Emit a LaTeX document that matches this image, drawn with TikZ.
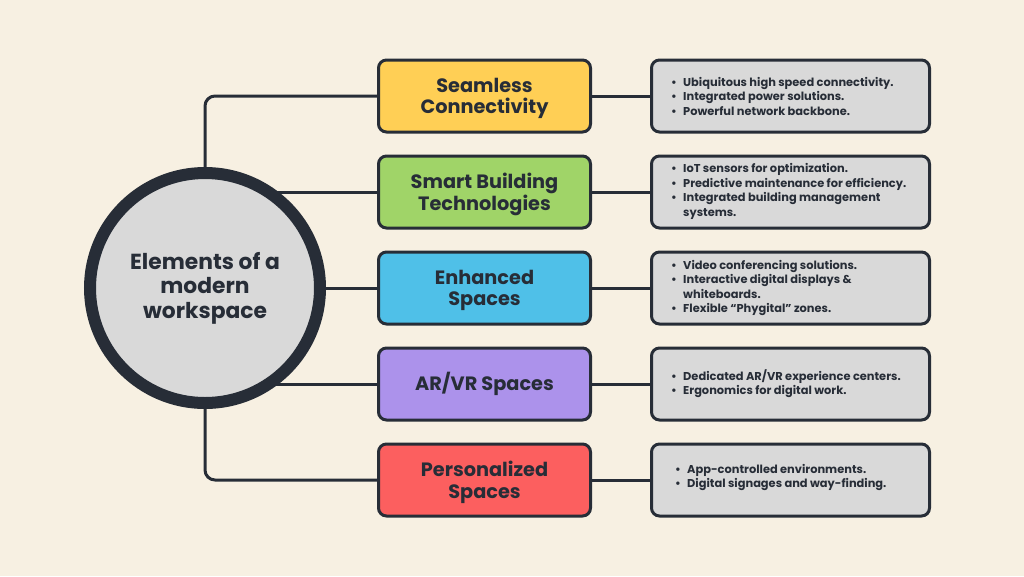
\documentclass[tikz,border=0pt]{standalone}
\usepackage{fontspec}
\setmainfont{Poppins}
\usetikzlibrary{backgrounds}
\definecolor{bgc}{HTML}{F7F0E2}
\definecolor{ink}{HTML}{272D37}
\definecolor{cyellow}{HTML}{FFCF55}
\definecolor{cgreen}{HTML}{A0D468}
\definecolor{cblue}{HTML}{4FC0E8}
\definecolor{cpurple}{HTML}{AC92EB}
\definecolor{cred}{HTML}{FC5F5F}
\definecolor{boxgray}{HTML}{D9D9D9}
\newcommand{\itm}[1]{\makebox[12pt][l]{•}#1}
\newcommand{\cnt}[1]{\hspace*{12pt}#1}
\begin{document}
\begin{tikzpicture}[x=1pt,y=-1pt,
  conn/.style={line width=3pt, draw=ink},
  cat/.style={draw=ink, line width=3pt, rounded corners=8pt, minimum width=212pt, minimum height=72pt, inner sep=0pt, align=center, font=\fontsize{19.3}{21.5}\selectfont\bfseries, text=ink},
  twoline/.style={text depth=0pt},
  det/.style={draw=ink, fill=boxgray, line width=3pt, rounded corners=8pt, minimum width=278pt, minimum height=72pt, inner sep=0pt},
  dtext/.style={anchor=west, align=left, font=\fontsize{11.4}{14.5}\selectfont\bfseries, text=ink, inner sep=0pt}]
\useasboundingbox (0,0) rectangle (1024,576);
\node[circle, draw=ink, line width=12pt, fill=boxgray, minimum size=230pt, inner sep=0pt, align=center, text=ink, font=\fontsize{21.8}{24.5}\selectfont\bfseries] (c) at (205,288) {Elements of a\\modern\\workspace};
\node[cat, twoline, fill=cyellow] (b1) at (484.5,96) {Seamless\\Connectivity};
\node[cat, twoline, fill=cgreen] (b2) at (484.5,192) {Smart Building\\Technologies};
\node[cat, twoline, fill=cblue] (b3) at (484.5,288) {Enhanced\\Spaces};
\node[cat, fill=cpurple] (b4) at (484.5,384) {AR/VR Spaces};
\node[cat, twoline, fill=cred] (b5) at (484.5,480) {Personalized\\Spaces};
\node[det] (d1) at (790.5,96) {};
\node[det] (d2) at (790.5,192) {};
\node[det] (d3) at (790.5,288) {};
\node[det] (d4) at (790.5,384) {};
\node[det] (d5) at (790.5,480) {};
\node[dtext] (t1) at (671,96) {\itm{Ubiquitous high speed connectivity.}\\\itm{Integrated power solutions.}\\\itm{Powerful network backbone.}};
\node[dtext] (t2) at (671,191.5) {\itm{IoT sensors for optimization.}\\\itm{Predictive maintenance for efficiency.}\\\itm{Integrated building management}\\\cnt{systems.}};
\node[dtext] (t3) at (671,288) {\itm{Video conferencing solutions.}\\\itm{Interactive digital displays \&}\\\cnt{whiteboards.}\\\itm{Flexible “Phygital” zones.}};
\node[dtext] (t4) at (671,383.5) {\itm{Dedicated AR/VR experience centers.}\\\itm{Ergonomics for digital work.}};
\node[dtext] (t5) at (675,477.5) {\itm{App-controlled environments.}\\\itm{Digital signages and way-finding.}};
\begin{pgfonlayer}{background}
\fill[bgc] (0,0) rectangle (1024,576);
\draw[conn, rounded corners=10pt] (c.center) |- (b1.west);
\draw[conn] (c.center |- b2.west) -- (b2.west);
\draw[conn] (c.center) -- (b3.west);
\draw[conn] (c.center |- b4.west) -- (b4.west);
\draw[conn, rounded corners=10pt] (c.center) |- (b5.west);
\foreach \i in {1,...,5}{\draw[conn] (b\i.east) -- (d\i.west);}
\end{pgfonlayer}
\end{tikzpicture}
\end{document}
